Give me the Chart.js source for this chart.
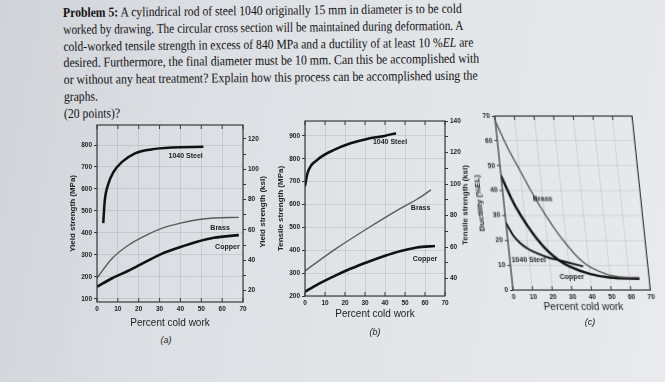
<!DOCTYPE html>
<html>
<head>
<meta charset="utf-8">
<script src="https://cdn.jsdelivr.net/npm/chart.js@4.4.0/dist/chart.umd.min.js"></script>
<style>
html, body { margin: 0; padding: 0; }
body {
	width: 665px; height: 382px; overflow: hidden; position: relative;
	background: linear-gradient(100deg, #d0d3d8 0%, #dcdfe3 30%, #e3e6e9 65%, #e8eaed 100%);
	font-family: "Liberation Sans", Arial, sans-serif;
}
.txt { position: absolute; left: 0; top: 0; width: 665px; height: 130px; transform: rotate(-0.6deg); transform-origin: 63px 13px; }
.ln { position: absolute; left: 63px; white-space: nowrap; font-family: "Liberation Serif", serif; font-size: 13.5px; line-height: 16px; color: #111; transform-origin: 0 50%; }
canvas { position: absolute; }
.cap { position: absolute; font-size: 9px; font-style: italic; color: #222; transform: translate(-50%, -50%); }
.rt { position: absolute; font-size: 8px; font-weight: bold; color: #222; white-space: nowrap; transform: translate(-50%, -50%) rotate(-90deg); }
</style>
</head>
<body>
<div class="txt">
	<div class="ln" style="top:5px"><b>Problem 5:</b> A cylindrical rod of steel 1040 originally 15 mm in diameter is to be cold</div>
	<div class="ln" style="top:22px">worked by drawing. The circular cross section will be maintained during deformation. A</div>
	<div class="ln" style="top:39px">cold-worked tensile strength in excess of 840 MPa and a ductility of at least 10 %<i>EL</i> are</div>
	<div class="ln" style="top:55px">desired. Furthermore, the final diameter must be 10 mm. Can this be accomplished with</div>
	<div class="ln" style="top:72px">or without any heat treatment? Explain how this process can be accomplished using the</div>
	<div class="ln" style="top:89px">graphs.</div>
	<div class="ln" style="top:106px">(20 points)?</div>
</div>

<canvas id="chartA" width="215" height="213" style="left:62px;top:119px"></canvas>
<canvas id="chartB" width="186" height="208" style="left:276px;top:115px"></canvas>
<canvas id="chartC" width="175" height="206" style="left:482px;top:110px;transform-origin:0 180px;transform:skewX(6deg)"></canvas>

<div class="rt" style="left:262px;top:212px">Yield strength (ksi)</div>
<div class="rt" style="left:465px;top:205px">Tensile strength (ksi)</div>
<div class="cap" style="left:166px;top:340px">(a)</div>
<div class="cap" style="left:375px;top:332px">(b)</div>
<div class="cap" style="left:590px;top:322px">(c)</div>

<script>
// fit the problem text lines to the widths seen in the photo
var lineTargets = [399, 400, 410, 416, 414];
var lines = document.querySelectorAll('.ln');
var baseScale = lineTargets[0] / lines[0].scrollWidth;
lines.forEach(function (el, i) {
	var s = i < lineTargets.length ? lineTargets[i] / el.scrollWidth : baseScale;
	el.style.transform = 'scaleX(' + s + ')';
});

var KSI = 6.895;

// tick labels
var coldWorkTicks = [0, 10, 20, 30, 40, 50, 60, 70];
var yieldMpaTicks = [100, 200, 300, 400, 500, 600, 700, 800];
var yieldKsiTicks = [20, 30, 40, 50, 60, 70, 80, 90, 100, 110, 120];
var tensileMpaTicks = [200, 300, 400, 500, 600, 700, 800, 900];
var tensileKsiTicks = [40, 50, 60, 70, 80, 90, 100, 110, 120, 130, 140];
var ductilityTicks = [0, 10, 20, 30, 40, 50, 60, 70];

// (a) yield strength, MPa
var yieldSteelX = [3, 3.7, 5.4, 7.8, 12, 18, 26, 36, 51];
var yieldSteelY = [445, 545, 622, 676, 723, 761, 780, 789, 792];
var yieldBrassX = [0, 7, 15, 23, 31, 40, 48, 56, 68];
var yieldBrassY = [195, 282, 344, 387, 421, 445, 460, 468, 471];
var yieldCopperX = [0, 7, 15, 23, 31, 40, 48, 56, 68];
var yieldCopperY = [155, 193, 228, 267, 305, 336, 360, 378, 390];

// (b) tensile strength, MPa
var tensileSteelX = [0, 1.3, 6.3, 14.5, 22.8, 31, 39.7, 45.5];
var tensileSteelY = [680, 738, 796, 839, 868, 887, 900, 912];
var tensileBrassX = [0, 15, 31, 48, 56, 63];
var tensileBrassY = [310, 404, 494, 584, 623, 664];
var tensileCopperX = [0, 6.6, 14.9, 23, 31.4, 39.7, 47.9, 56, 65];
var tensileCopperY = [219, 252, 288, 320, 349, 375, 397, 412, 419];

// (c) ductility, %EL
var ductSteelX = [0, 3, 6, 10, 15, 20, 25, 30, 37];
var ductSteelY = [27, 22, 19, 16.5, 14.5, 13, 12, 11, 9.5];
var ductBrassX = [0, 5, 10, 15, 20, 25, 30, 35, 40, 45, 50, 60, 65];
var ductBrassY = [68, 57, 48, 39, 31, 24, 18, 13, 9.5, 7.5, 6, 5, 5];
var ductCopperX = [0, 5, 10, 15, 20, 25, 30, 40, 50, 65];
var ductCopperY = [46, 35, 27, 20.5, 15.5, 12, 9.5, 6.5, 5, 4.5];

function pts(xs, ys) {
	return xs.map(function (v, i) { return { x: v, y: ys[i] }; });
}

function curve(xs, ys, color, width) {
	return {
		data: pts(xs, ys),
		borderColor: color,
		borderWidth: width,
		pointRadius: 0,
		fill: false,
		cubicInterpolationMode: 'monotone',
	};
}

var tickFont = { family: 'Liberation Sans', size: 6.5, weight: 'bold' };
var faint = 'rgba(0,0,0,0.09)';

// frame, inner ticks on top/bottom edges and curve names
var decor = {
	id: 'decor',
	afterDatasetsDraw: function (chart, args, opts) {
		var ctx = chart.ctx, a = chart.chartArea, x = chart.scales.x, y = chart.scales.y;
		ctx.save();
		ctx.strokeStyle = '#3a3a3a';
		ctx.lineWidth = 1.2;
		ctx.strokeRect(a.left, a.top, a.right - a.left, a.bottom - a.top);
		ctx.lineWidth = 1;
		x.ticks.forEach(function (t) {
			var px = x.getPixelForValue(t.value);
			ctx.beginPath();
			ctx.moveTo(px, a.bottom); ctx.lineTo(px, a.bottom - 4);
			ctx.moveTo(px, a.top); ctx.lineTo(px, a.top + 4);
			ctx.stroke();
		});
		ctx.font = 'bold 7px "Liberation Sans"';
		ctx.fillStyle = '#222';
		ctx.textAlign = 'center';
		ctx.textBaseline = 'middle';
		(opts.labels || []).forEach(function (l) {
			ctx.fillText(l.text, x.getPixelForValue(l.x), y.getPixelForValue(l.y));
		});
		ctx.restore();
	},
};

function xScale(height) {
	return {
		type: 'linear',
		min: 0,
		max: 70,
		afterBuildTicks: function (s) { s.ticks = coldWorkTicks.map(function (v) { return { value: v }; }); },
		afterFit: function (s) { s.height = height; },
		border: { display: false },
		grid: { color: faint, drawTicks: false },
		ticks: { font: tickFont, color: '#222', padding: 3, maxRotation: 0 },
		title: {
			display: true,
			text: 'Percent cold work',
			color: '#222',
			font: { family: 'Liberation Sans', size: 10 },
			padding: { top: 0, bottom: 3 },
		},
	};
}

function leftScale(min, max, ticks, width, title, titlePad) {
	return {
		position: 'left',
		min: min,
		max: max,
		afterBuildTicks: function (s) { s.ticks = ticks.map(function (v) { return { value: v }; }); },
		afterFit: function (s) { s.width = width; },
		border: { display: false },
		grid: { color: faint, tickColor: '#333', tickLength: 3 },
		ticks: { font: tickFont, color: '#222', padding: 2 },
		title: {
			display: true,
			text: title,
			color: '#222',
			font: { family: 'Liberation Sans', size: 8, weight: 'bold' },
			padding: { top: titlePad, bottom: 0 },
		},
	};
}

function rightScale(min, max, ticks, width) {
	return {
		position: 'right',
		min: min,
		max: max,
		afterBuildTicks: function (s) { s.ticks = ticks.map(function (v) { return { value: v }; }); },
		afterFit: function (s) { s.width = width; },
		border: { display: false },
		grid: { drawOnChartArea: false, tickColor: '#333', tickLength: 3 },
		ticks: {
			font: tickFont,
			color: '#222',
			padding: 2,
			callback: function (v) { return v % 20 === 0 ? v : ''; },
		},
	};
}

function baseOptions(scales, labels, padRight) {
	return {
		responsive: false,
		animation: false,
		events: [],
		layout: { padding: { top: 6, left: 0, right: padRight, bottom: 0 } },
		plugins: {
			legend: { display: false },
			tooltip: { enabled: false },
			decor: { labels: labels },
		},
		scales: scales,
	};
}

var chartA = new Chart(document.getElementById('chartA'), {
	type: 'line',
	data: {
		datasets: [
			curve(yieldSteelX, yieldSteelY, '#111', 2.5),
			curve(yieldBrassX, yieldBrassY, '#5a5a5a', 1.4),
			curve(yieldCopperX, yieldCopperY, '#111', 2.6),
		],
	},
	options: baseOptions({
		x: xScale(30),
		y: leftScale(86, 891, yieldMpaTicks, 35, 'Yield strength (MPa)', 6),
		y1: rightScale(86 / KSI, 891 / KSI, yieldKsiTicks, 34),
	}, [
		{ text: '1040 Steel', x: 42.5, y: 751 },
		{ text: 'Brass', x: 59, y: 421 },
		{ text: 'Copper', x: 62.5, y: 336 },
	], 0),
	plugins: [decor],
});

var chartB = new Chart(document.getElementById('chartB'), {
	type: 'line',
	data: {
		datasets: [
			curve(tensileSteelX, tensileSteelY, '#111', 2.5),
			curve(tensileBrassX, tensileBrassY, '#5a5a5a', 1.4),
			curve(tensileCopperX, tensileCopperY, '#111', 2.6),
		],
	},
	options: baseOptions({
		x: xScale(27),
		y: leftScale(200, 140 * KSI, tensileMpaTicks, 29, 'Tensile strength (MPa)', 0),
		y1: rightScale(200 / KSI, 140, tensileKsiTicks, 17),
	}, [
		{ text: '1040 Steel', x: 42.5, y: 872 },
		{ text: 'Brass', x: 57.8, y: 583 },
		{ text: 'Copper', x: 60, y: 361 },
	], 0),
	plugins: [decor],
});

var chartC = new Chart(document.getElementById('chartC'), {
	type: 'line',
	data: {
		datasets: [
			curve(ductSteelX, ductSteelY, '#111', 2),
			curve(ductBrassX, ductBrassY, '#5a5a5a', 1.4),
			curve(ductCopperX, ductCopperY, '#111', 2.5),
		],
	},
	options: baseOptions({
		x: xScale(26),
		y: leftScale(0, 70, ductilityTicks, 31, 'Ductility (%EL)', 2),
	}, [
		{ text: 'Brass', x: 20, y: 36.5 },
		{ text: '1040 Steel', x: 9.6, y: 12.2 },
		{ text: 'Copper', x: 30.7, y: 5.4 },
	], 6),
	plugins: [decor],
});
</script>
</body>
</html>
